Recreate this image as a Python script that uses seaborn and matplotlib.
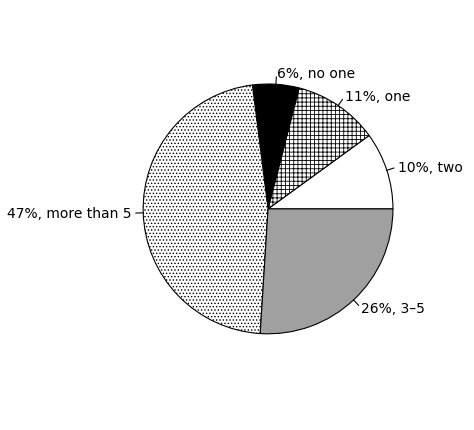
import numpy as np
import matplotlib
matplotlib.use("Agg")
import matplotlib.pyplot as plt
import seaborn as sns

sns.set_style("white")
plt.rcParams['hatch.linewidth'] = 0.6

labels = ["two", "one", "no one", "more than 5", "3–5"]
shares = [10, 11, 6, 47, 26]
colors = ["white", "white", "black", "white", "#a0a0a0"]
hatches = ["", "++++", "", ".....", ""]

fig = plt.figure(figsize=(4.74, 4.31), dpi=100)
ax = fig.add_axes([0.302, 0.223, 0.527, 0.580])

wedges, _ = ax.pie(shares, colors=colors, startangle=0, counterclock=True,
                   wedgeprops=dict(edgecolor="black", linewidth=0.8))
for w, h in zip(wedges, hatches):
    w.set_hatch(h)
ax.set_aspect("equal")
ax.set_xlim(-1, 1)
ax.set_ylim(-1, 1)

for w, lab, s in zip(wedges, labels, shares):
    ang = np.deg2rad((w.theta1 + w.theta2) / 2)
    x, y = np.cos(ang), np.sin(ang)
    ax.plot([x, 1.06 * x], [y, 1.06 * y], color="black", lw=0.8, clip_on=False)
    ha = "left" if x > 0 else "right"
    ax.text(1.09 * x, 1.09 * y, f"{s}%, {lab}", ha=ha, va="center",
            fontsize=10, color="black")

fig.savefig("out.png", dpi=100)
